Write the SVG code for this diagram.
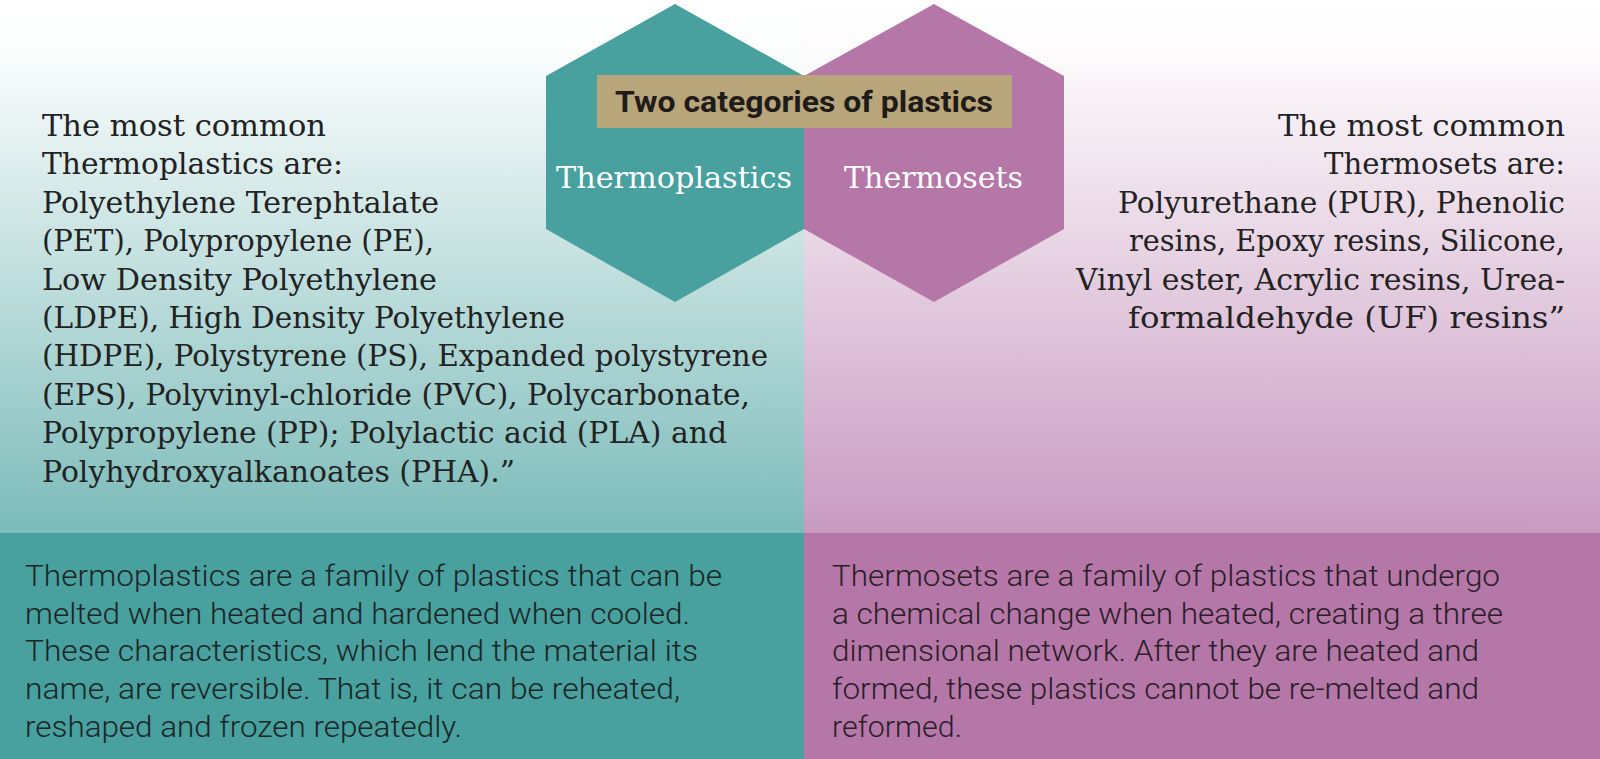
<svg xmlns="http://www.w3.org/2000/svg" width="1600" height="759" viewBox="0 0 1600 759">
<defs>
<linearGradient id="gL" x1="0" y1="0" x2="0" y2="533" gradientUnits="userSpaceOnUse">
<stop offset="0" stop-color="#ffffff"/>
<stop offset="0.1" stop-color="#fbfdfd"/>
<stop offset="1" stop-color="#7bbbb9"/>
</linearGradient>
<linearGradient id="gR" x1="0" y1="0" x2="0" y2="533" gradientUnits="userSpaceOnUse">
<stop offset="0" stop-color="#ffffff"/>
<stop offset="0.1" stop-color="#fdfbfc"/>
<stop offset="1" stop-color="#c89bc1"/>
</linearGradient>
<style>
.slab{font-family:"DejaVu Serif","Liberation Serif",serif;font-size:29px;fill:#222222;}
.hexlabel{font-family:"DejaVu Serif","Liberation Serif",serif;font-size:29px;fill:#ffffff;}
.title{font-family:Roboto,"Liberation Sans",sans-serif;font-weight:700;font-size:30px;fill:#1f1b18;}
.body{font-family:Roboto,"Liberation Sans",sans-serif;font-weight:300;font-size:30px;fill:#1c2626;}
.bodyR{font-family:Roboto,"Liberation Sans",sans-serif;font-weight:300;font-size:30px;fill:#2a1e28;}
.teal{fill:#48a09f;}
.pink{fill:#b577a7;}
</style>
</defs>

<g id="background">
<rect x="0" y="0" width="804" height="533" fill="url(#gL)"/>
<rect x="804" y="0" width="796" height="533" fill="url(#gR)"/>
<rect class="teal" x="0" y="533" width="804" height="226"/>
<rect class="pink" x="804" y="533" width="796" height="226"/>
</g>

<g id="connectors"></g>

<g id="node-thermoplastics">
<polygon class="teal" points="675,4 804,76 804,229 675,302 546,229 546,76"/>
<text class="hexlabel" x="556" y="188" textLength="236" lengthAdjust="spacingAndGlyphs">Thermoplastics</text>
</g>

<g id="node-thermosets">
<polygon class="pink" points="934,4 1064,76 1064,229 934,302 804,229 804,76"/>
<text class="hexlabel" x="844" y="188" textLength="179" lengthAdjust="spacingAndGlyphs">Thermosets</text>
</g>

<g id="node-title">
<rect x="597" y="75" width="415" height="53" fill="#b8a57a"/>
<text class="title" x="615" y="112" textLength="378" lengthAdjust="spacingAndGlyphs">Two categories of plastics</text>
</g>

<g id="node-thermoplastics-list">
<text class="slab" x="42" y="136" textLength="284" lengthAdjust="spacingAndGlyphs">The most common</text>
<text class="slab" x="42" y="174" textLength="301" lengthAdjust="spacingAndGlyphs">Thermoplastics are:</text>
<text class="slab" x="42" y="213" textLength="397" lengthAdjust="spacingAndGlyphs">Polyethylene Terephtalate</text>
<text class="slab" x="42" y="251" textLength="392" lengthAdjust="spacingAndGlyphs">(PET), Polypropylene (PE),</text>
<text class="slab" x="42" y="290" textLength="395" lengthAdjust="spacingAndGlyphs">Low Density Polyethylene</text>
<text class="slab" x="42" y="328" textLength="523" lengthAdjust="spacingAndGlyphs">(LDPE), High Density Polyethylene</text>
<text class="slab" x="42" y="366" textLength="726" lengthAdjust="spacingAndGlyphs">(HDPE), Polystyrene (PS), Expanded polystyrene</text>
<text class="slab" x="42" y="405" textLength="708" lengthAdjust="spacingAndGlyphs">(EPS), Polyvinyl-chloride (PVC), Polycarbonate,</text>
<text class="slab" x="42" y="443" textLength="685" lengthAdjust="spacingAndGlyphs">Polypropylene (PP); Polylactic acid (PLA) and</text>
<text class="slab" x="42" y="482" textLength="473" lengthAdjust="spacingAndGlyphs">Polyhydroxyalkanoates (PHA).”</text>
</g>

<g id="node-thermosets-list">
<text class="slab" x="1278" y="136" textLength="287" lengthAdjust="spacingAndGlyphs">The most common</text>
<text class="slab" x="1324" y="174" textLength="241" lengthAdjust="spacingAndGlyphs">Thermosets are:</text>
<text class="slab" x="1118" y="213" textLength="447" lengthAdjust="spacingAndGlyphs">Polyurethane (PUR), Phenolic</text>
<text class="slab" x="1129" y="251" textLength="436" lengthAdjust="spacingAndGlyphs">resins, Epoxy resins, Silicone,</text>
<text class="slab" x="1076" y="290" textLength="489" lengthAdjust="spacingAndGlyphs">Vinyl ester, Acrylic resins, Urea-</text>
<text class="slab" x="1128" y="328" textLength="437" lengthAdjust="spacingAndGlyphs">formaldehyde (UF) resins”</text>
</g>

<g id="node-thermoplastics-desc">
<text class="body" x="25" y="586" textLength="697" lengthAdjust="spacingAndGlyphs">Thermoplastics are a family of plastics that can be</text>
<text class="body" x="25" y="624" textLength="665" lengthAdjust="spacingAndGlyphs">melted when heated and hardened when cooled.</text>
<text class="body" x="25" y="661" textLength="673" lengthAdjust="spacingAndGlyphs">These characteristics, which lend the material its</text>
<text class="body" x="25" y="699" textLength="655" lengthAdjust="spacingAndGlyphs">name, are reversible. That is, it can be reheated,</text>
<text class="body" x="25" y="737" textLength="437" lengthAdjust="spacingAndGlyphs">reshaped and frozen repeatedly.</text>
</g>

<g id="node-thermosets-desc">
<text class="bodyR" x="832" y="586" textLength="668" lengthAdjust="spacingAndGlyphs">Thermosets are a family of plastics that undergo</text>
<text class="bodyR" x="832" y="624" textLength="671" lengthAdjust="spacingAndGlyphs">a chemical change when heated, creating a three</text>
<text class="bodyR" x="832" y="661" textLength="647" lengthAdjust="spacingAndGlyphs">dimensional network. After they are heated and</text>
<text class="bodyR" x="832" y="699" textLength="647" lengthAdjust="spacingAndGlyphs">formed, these plastics cannot be re-melted and</text>
<text class="bodyR" x="832" y="737" textLength="130" lengthAdjust="spacingAndGlyphs">reformed.</text>
</g>
</svg>
